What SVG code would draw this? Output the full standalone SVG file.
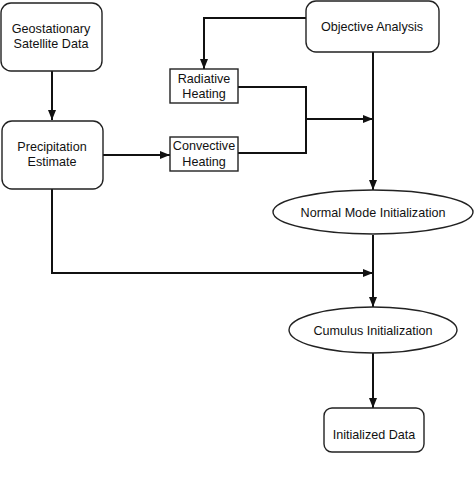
<svg xmlns="http://www.w3.org/2000/svg" width="474" height="479" viewBox="0 0 474 479">
<defs>
<marker id="ah" viewBox="0 0 10 10" refX="10" refY="5" markerWidth="10" markerHeight="10" markerUnits="userSpaceOnUse" orient="auto">
<path d="M0,1 L10,5 L0,9 Z" fill="#111"/>
</marker>
<style>
.box{fill:#fff;stroke:#222;stroke-width:1.4}
.t{font-family:"Liberation Sans",Arial,sans-serif;font-size:12.6px;fill:#111;text-anchor:middle}
.c{fill:none;stroke:#111;stroke-width:2}
</style>
</defs>
<rect width="474" height="479" fill="#fff"/>
<g id="connectors">
<path class="c" d="M52,71 V120" marker-end="url(#ah)"/>
<path class="c" d="M103,155 H170" marker-end="url(#ah)"/>
<path class="c" d="M306,18 H204 V69" marker-end="url(#ah)"/>
<path class="c" d="M238,87 H306 V153 H238"/>
<path class="c" d="M306,119 H373" marker-end="url(#ah)"/>
<path class="c" d="M373,52 V190" marker-end="url(#ah)"/>
<path class="c" d="M52,189 V273 H373" marker-end="url(#ah)"/>
<path class="c" d="M373,235 V307" marker-end="url(#ah)"/>
<path class="c" d="M373,353 V408" marker-end="url(#ah)"/>
</g>
<g id="geo">
<rect class="box" x="1" y="3" width="101" height="68" rx="10"/>
<text class="t" x="51" y="33">Geostationary</text>
<text class="t" x="51" y="48">Satellite Data</text>
</g>
<g id="precip">
<rect class="box" x="2" y="121" width="101" height="68" rx="10"/>
<text class="t" x="52" y="151">Precipitation</text>
<text class="t" x="52" y="166">Estimate</text>
</g>
<g id="radiative">
<rect class="box" x="170" y="69" width="68" height="34"/>
<text class="t" x="204" y="83">Radiative</text>
<text class="t" x="204" y="98">Heating</text>
</g>
<g id="convective">
<rect class="box" x="170" y="137" width="68" height="34"/>
<text class="t" x="204" y="150">Convective</text>
<text class="t" x="204" y="166">Heating</text>
</g>
<g id="objective">
<rect class="box" x="306" y="1" width="133" height="51" rx="10"/>
<text class="t" x="372" y="31">Objective Analysis</text>
</g>
<g id="normal">
<ellipse class="box" cx="373" cy="212" rx="100" ry="22"/>
<text class="t" x="373" y="217">Normal Mode Initialization</text>
</g>
<g id="cumulus">
<ellipse class="box" cx="373" cy="330" rx="84" ry="23"/>
<text class="t" x="373" y="335">Cumulus Initialization</text>
</g>
<g id="initialized">
<rect class="box" x="324" y="408" width="100" height="44" rx="8"/>
<text class="t" x="374" y="439">Initialized Data</text>
</g>
</svg>
